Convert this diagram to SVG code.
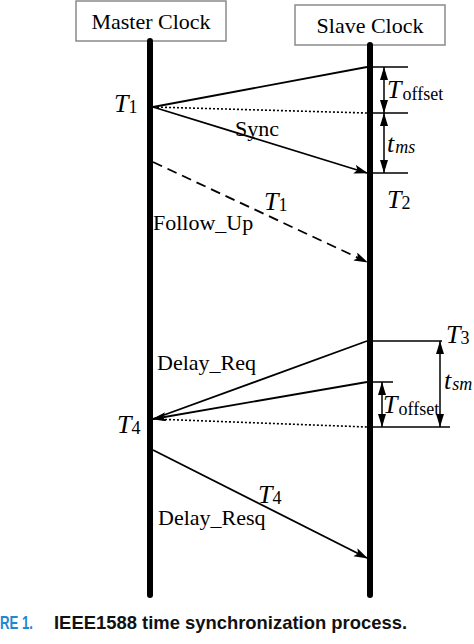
<svg xmlns="http://www.w3.org/2000/svg" width="474" height="644" viewBox="0 0 474 644">
<style>
.box{fill:#fff;stroke:#8a8a8a;stroke-width:1.5}
.life{stroke:#000;stroke-width:6;stroke-linecap:round;fill:none}
.msg{stroke:#000;stroke-width:1.8;fill:none}
.dash{stroke:#000;stroke-width:1.8;fill:none;stroke-dasharray:10,6}
.dot{stroke:#000;stroke-width:1.6;fill:none;stroke-dasharray:2,2}
.tick{stroke:#000;stroke-width:1.5;fill:none}
.dim{stroke:#000;stroke-width:1.5;fill:none}
.lbl{font-family:"Liberation Serif","Times New Roman",serif;font-size:22px;fill:#000}
.var{font-family:"Liberation Serif","Times New Roman",serif;font-size:26px;font-style:italic;fill:#000}
.sub{font-size:18px;font-style:normal}
.subi{font-size:18px;font-style:italic}
.cap{font-family:"Liberation Sans",Arial,sans-serif;font-size:19px;font-weight:bold}
</style>
<defs>
<marker id="ah" markerUnits="userSpaceOnUse" markerWidth="14" markerHeight="10" refX="13" refY="4.5" orient="auto">
<path d="M0,0 L14,4.5 L0,9 L3,4.5 z" fill="#000"/>
</marker>
<marker id="dh" markerUnits="userSpaceOnUse" markerWidth="13" markerHeight="8" refX="13" refY="4" orient="auto-start-reverse">
<path d="M0,0 L13,4 L0,8 z" fill="#000"/>
</marker>
</defs>

<g id="master">
<rect class="box" x="76" y="1" width="150" height="40"/>
<text class="lbl" x="151" y="29" text-anchor="middle">Master Clock</text>
<line class="life" x1="150" y1="41" x2="150" y2="595"/>
</g>
<g id="slave">
<rect class="box" x="295" y="5" width="150" height="40"/>
<text class="lbl" x="370" y="33" text-anchor="middle">Slave Clock</text>
<line class="life" x1="370" y1="45" x2="370" y2="595"/>
</g>

<g id="connectors">
<line class="msg" x1="153" y1="107" x2="367" y2="67"/>
<line class="dot" x1="153" y1="107" x2="367" y2="113"/>
<line class="msg" x1="153" y1="107" x2="367" y2="173" marker-end="url(#ah)"/>
<line class="dash" x1="153" y1="162" x2="367" y2="262" marker-end="url(#ah)"/>
<line class="tick" x1="370" y1="67" x2="408" y2="67"/>
<line class="tick" x1="370" y1="113" x2="408" y2="113"/>
<line class="tick" x1="370" y1="173" x2="408" y2="173"/>
<line class="dim" x1="384" y1="67" x2="384" y2="113" marker-start="url(#dh)" marker-end="url(#dh)"/>
<line class="dim" x1="384" y1="113" x2="384" y2="173" marker-start="url(#dh)" marker-end="url(#dh)"/>
<line class="msg" x1="367" y1="341" x2="153" y2="419"/>
<line class="msg" x1="367" y1="382" x2="153" y2="419" marker-end="url(#ah)"/>
<line class="dot" x1="153" y1="419" x2="367" y2="427"/>
<line class="tick" x1="370" y1="341" x2="442" y2="341"/>
<line class="tick" x1="370" y1="382" x2="393" y2="382"/>
<line class="tick" x1="370" y1="427" x2="450" y2="427"/>
<line class="dim" x1="382" y1="382" x2="382" y2="427" marker-start="url(#dh)" marker-end="url(#dh)"/>
<line class="dim" x1="440" y1="341" x2="440" y2="427" marker-start="url(#dh)" marker-end="url(#dh)"/>
<line class="msg" x1="153" y1="450" x2="367" y2="558" marker-end="url(#ah)"/>
</g>

<g id="labels">
<text class="var" x="114" y="112">T<tspan class="sub" dy="1">1</tspan></text>
<text class="lbl" x="235" y="136">Sync</text>
<text class="var" x="387" y="98">T<tspan class="sub" dx="1" dy="2">offset</tspan></text>
<text class="var" x="387" y="152">t<tspan class="subi" dx="1" dy="1">ms</tspan></text>
<text class="var" x="387" y="208">T<tspan class="sub" dy="1">2</tspan></text>
<text class="var" x="264" y="210">T<tspan class="sub" dy="1">1</tspan></text>
<text class="lbl" x="153" y="230">Follow_Up</text>
<text class="var" x="446" y="343">T<tspan class="sub" dy="1">3</tspan></text>
<text class="lbl" x="157" y="370">Delay_Req</text>
<text class="var" x="444" y="389">t<tspan class="subi" dx="1" dy="1">sm</tspan></text>
<text class="var" x="383" y="413">T<tspan class="sub" dx="1" dy="2">offset</tspan></text>
<text class="var" x="117" y="433">T<tspan class="sub" dy="1">4</tspan></text>
<text class="var" x="258" y="503">T<tspan class="sub" dy="1">4</tspan></text>
<text class="lbl" x="158" y="525">Delay_Resq</text>
</g>

<g id="caption">
<text class="cap" x="0" y="629" fill="#1e88d0" textLength="33" lengthAdjust="spacingAndGlyphs">RE 1.</text>
<text class="cap" x="54" y="629" fill="#111" textLength="353" lengthAdjust="spacingAndGlyphs">IEEE1588 time synchronization process.</text>
</g>
</svg>
